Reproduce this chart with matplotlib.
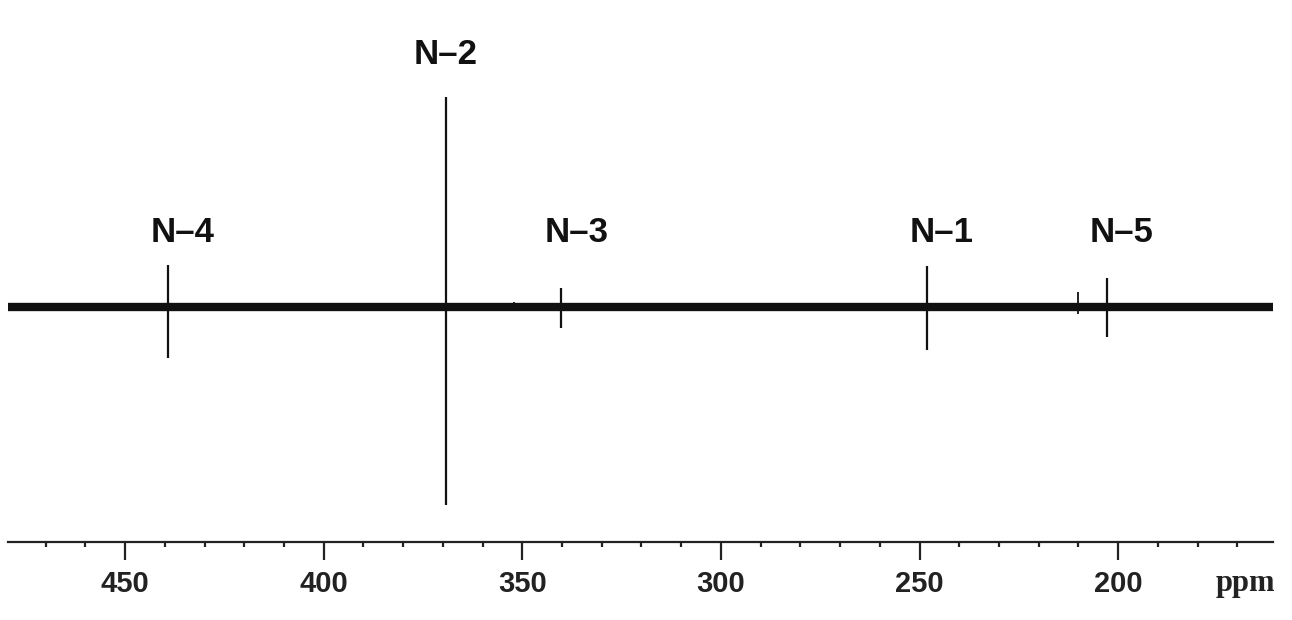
import numpy as np
import matplotlib.pyplot as plt
from matplotlib.ticker import MultipleLocator

# peak positions (ppm) and their extent above / below the baseline (arb. units)
labels = ['N–4', 'N–2', 'N–3', 'N–1', 'N–5']
shifts = [439.2, 369.2, 340.2, 248.1, 202.8]
up = [42, 210, 19, 41, 29]
down = [51, 198, 21, 43, 30]

# small unlabelled spikes
small_shifts = [352.0, 210.1]
small_up = [5, 15]
small_down = [2, 7]

major_ticks = [450, 400, 350, 300, 250, 200]

fig = plt.figure(figsize=(12.92, 6.2), dpi=100)
ax = fig.add_axes([8 / 1292, 78 / 620, 1265 / 1292, 542 / 620])

ax.set_xlim(479.5, 161.0)
ax.set_ylim(-235, 307)

# baseline
ax.axhline(0, color='#111111', lw=6, solid_capstyle='butt')

# peaks
ax.vlines(shifts, [-d for d in down], up, color='#111111', lw=1.6)
ax.vlines(small_shifts, [-d for d in small_down], small_up, color='#111111', lw=1.3)

lab_font = dict(family='Liberation Sans', weight='bold', size=25, color='#111111')
for lab, s, u in zip(labels, shifts, up):
    tall = u > 100
    y = u + 42 if tall else 74
    dx = 0 if tall else 15
    ax.annotate(lab, xy=(s, y), xytext=(dx, 0), textcoords='offset pixels',
                ha='center', va='center', **lab_font)

# axis styling
for side in ['top', 'left', 'right']:
    ax.spines[side].set_visible(False)
ax.spines['bottom'].set_linewidth(1.6)
ax.spines['bottom'].set_color('#222222')
ax.set_yticks([])
ax.set_xticks(major_ticks)
ax.xaxis.set_minor_locator(MultipleLocator(10))
ax.tick_params(axis='x', which='major', direction='out', length=13, width=1.6,
               color='#222222', pad=7, labelsize=21, labelcolor='#222222')
ax.tick_params(axis='x', which='minor', direction='out', length=3.5, width=1.6,
               color='#222222')
for t in ax.get_xticklabels():
    t.set_family('Liberation Sans')
    t.set_weight('bold')

fig.text(1245 / 1292, 1 - 583 / 620, 'ppm', ha='center', va='center',
         family='Liberation Serif', weight='bold', size=22, color='#222222')

fig.savefig('out.png', dpi=100, facecolor='white')
